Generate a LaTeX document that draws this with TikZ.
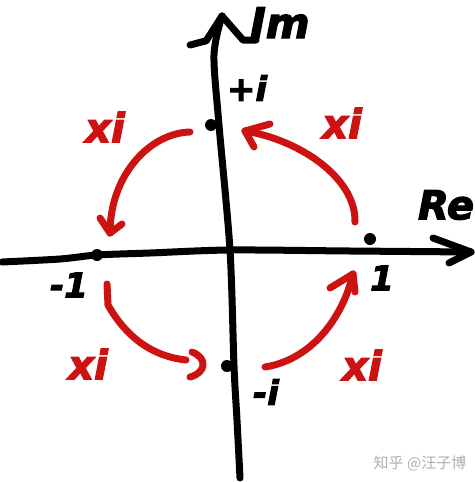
\documentclass[tikz,border=0pt]{standalone}
\usepackage{fontspec}
\setmainfont{DejaVu Sans}
\newfontfamily\handfont[FakeBold=3]{DejaVu Sans Bold Oblique}
\newfontfamily\cjkfont{Noto Sans CJK SC}
\definecolor{penred}{RGB}{205,18,18}
\definecolor{wmgray}{RGB}{175,175,175}
\tikzset{
  ink/.style={line width=7pt, line cap=round, line join=round},
  axis/.style={ink, black},
  redarrow/.style={ink, penred},
  dotnode/.style={circle, fill=black, inner sep=0pt, minimum size=12pt},
  lbl/.style={inner sep=0pt, font=\handfont\fontsize{34}{34}\selectfont},
  xilbl/.style={inner sep=0pt, text=penred, font=\handfont\fontsize{40}{40}\selectfont},
}
\begin{document}
\begin{tikzpicture}[x=1pt,y=-1pt]
\useasboundingbox (0,0) rectangle (474,482);
% axes
\coordinate (hL) at (2,262);
\coordinate (hR) at (471,252);
\coordinate (vB) at (240,478);
\coordinate (vT) at (222,16);
\draw[axis] plot[smooth] coordinates {(2,262) (60,259) (97,255) (150,253) (230,250) (350,251) (471,252)};
\draw[axis] (hR) -- (433,238);
\draw[axis] (hR) -- (449,263);
\draw[axis] plot[smooth] coordinates {(240,478) (237,420) (234,366) (230,250) (219,125) (214,55) (222,16)};
\draw[axis] (vT) -- (206,41) .. controls (200,42) and (195,44) .. (190,45);
\draw[axis] (vT) -- (243,40) -- (256,40);
% dots
\node[dotnode] (m1) at (97,255) {};
\node[dotnode] (pi) at (211,125) {};
\node[dotnode] (p1) at (370,239) {};
\node[dotnode] (mi) at (227,366) {};
% labels
\node[lbl] (Lpi) at (247,88) {+i};
\node[lbl] (Lm1) at (69,285) {-1};
\node[lbl] (Lp1) at (382,278) {1};
\node[lbl] (Lmi) at (266,392) {-i};
\node[lbl, font=\handfont\fontsize{40}{40}\selectfont] (Lre) at (446,205) {Re};
\node[lbl, anchor=base west, font=\handfont\fontsize{42}{42}\selectfont] (Lim) at (250,38) {Im};
\node[xilbl] (X1) at (105,127) {xi};
\node[xilbl] (X2) at (342,123) {xi};
\node[xilbl] (X3) at (88,364) {xi};
\node[xilbl] (X4) at (362,365) {xi};
% red arrows
\coordinate (a1s) at (190,132);
\coordinate (a1t) at (110,233);
\draw[redarrow] (a1s) .. controls (150,133) and (110,175) .. (a1t);
\draw[redarrow] (a1t) -- (100,218);
\draw[redarrow] (a1t) -- (122,224);
\coordinate (a2s) at (355,222);
\coordinate (a2t) at (245,131);
\draw[redarrow] (a2s) .. controls (356,178) and (300,140) .. (a2t);
\draw[redarrow] (a2t) -- (270,124);
\draw[redarrow] (a2t) -- (254,147);
\coordinate (a3s) at (265,367);
\coordinate (a3t) at (353,274);
\draw[redarrow] (a3s) .. controls (310,360) and (342,320) .. (a3t);
\draw[redarrow] (a3t) -- (330,288);
\draw[redarrow] (a3t) -- (355,292);
\coordinate (a4s) at (107,284);
\coordinate (a4t) at (186,360);
\draw[redarrow] (a4s) -- (108,305) .. controls (125,335) and (150,356) .. (a4t);
\draw[redarrow] (192,352) .. controls (208,358) and (206,373) .. (190,377);
% watermark
\node[text=wmgray, inner sep=0pt, font=\cjkfont\fontsize{15}{15}\selectfont] (wm) at (420,463) {知乎 @汪子博};
\end{tikzpicture}
\end{document}
